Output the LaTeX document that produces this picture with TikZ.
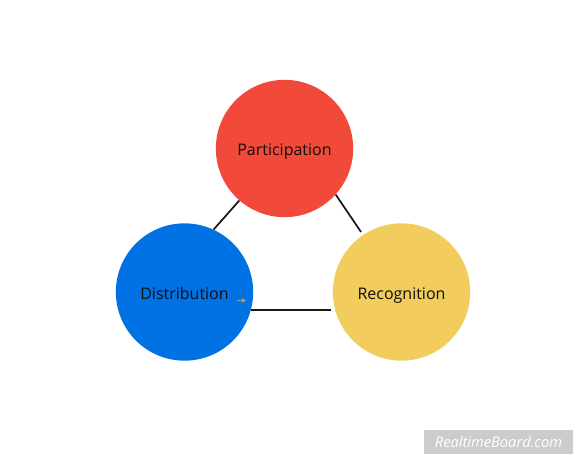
\documentclass[tikz,border=0pt]{standalone}
\usepackage{fontspec}
\setmainfont{Open Sans}
\usepackage{xcolor}
\definecolor{rbred}{RGB}{242,74,58}
\definecolor{rbblue}{RGB}{0,114,227}
\definecolor{rbyellow}{RGB}{242,205,94}
\definecolor{rbgray}{RGB}{204,204,204}
\definecolor{rbtext}{RGB}{15,15,15}
\usetikzlibrary{arrows.meta,calc}

\begin{document}
\begin{tikzpicture}[x=0.75pt,y=-0.75pt,font=\fontsize{12}{14}\selectfont,
  bubble/.style={circle,minimum size=103pt,inner sep=0pt,text=rbtext,
    text height=10.5pt,text depth=0pt},
  link/.style={draw=black!90,line width=1.3pt}]
  \useasboundingbox[fill=white] (0,0) rectangle (584,464);
  \node[bubble,fill=rbred] (part) at (284.5,148.5) {Participation};
  \node[bubble,fill=rbblue] (dist) at (184.5,292) {Distribution};
  \node[bubble,fill=rbyellow] (recog) at (401.5,292) {Recognition};
  \draw[link] (dist.65) -- (part.229);
  \draw[link] (part.318) -- ($(recog.center)!1.05!(recog.124)$);
  \draw[link] (dist.345) -- ([xshift=-1.5pt]recog.west |- dist.345);
  % small cursor mark
  \coordinate (tip) at (246,300.5);
  \draw[gray!75,line width=1.2pt,-{Stealth[length=3.5pt,width=4pt]}] ([xshift=-6.5pt]tip) -- (tip);
  % watermark
  \node[fill=rbgray,text=white,minimum width=111.5pt,minimum height=18pt,
    font=\fontsize{11}{12}\selectfont\itshape] (mark) at (498.5,442) {RealtimeBoard.com};
\end{tikzpicture}
\end{document}
